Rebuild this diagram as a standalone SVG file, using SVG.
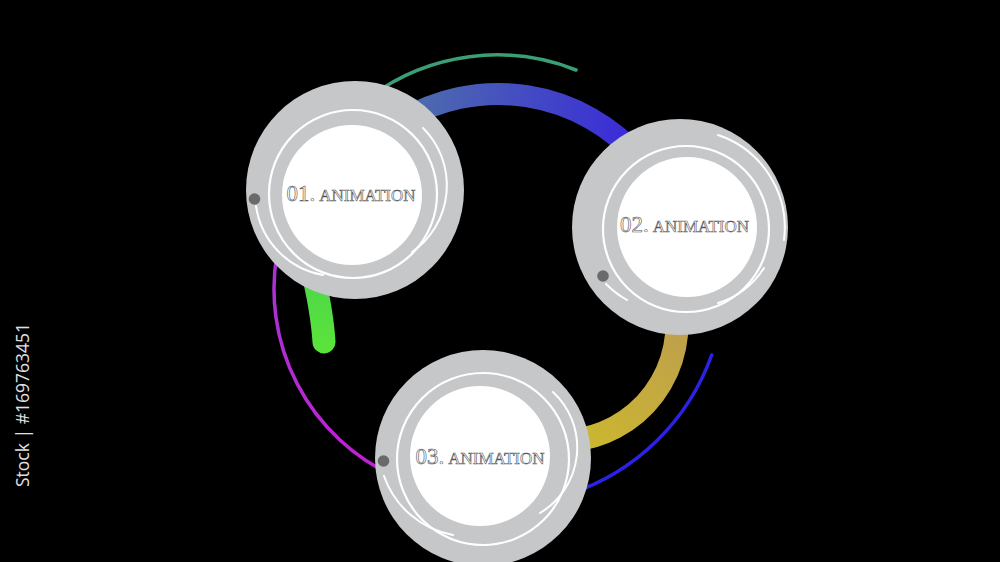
<svg xmlns="http://www.w3.org/2000/svg" width="1000" height="562" viewBox="0 0 1000 562">
  <defs>
    <linearGradient id="gBlue" gradientUnits="userSpaceOnUse" x1="420" y1="100" x2="630" y2="130">
      <stop offset="0" stop-color="#4d6aae"/>
      <stop offset="1" stop-color="#3a2bd8"/>
    </linearGradient>
    <linearGradient id="gGold" gradientUnits="userSpaceOnUse" x1="680" y1="330" x2="590" y2="445">
      <stop offset="0" stop-color="#bfa04c"/>
      <stop offset="1" stop-color="#cbb630"/>
    </linearGradient>
    <linearGradient id="gMag" gradientUnits="userSpaceOnUse" x1="275" y1="260" x2="380" y2="470">
      <stop offset="0" stop-color="#a834d2"/>
      <stop offset="1" stop-color="#c21ed6"/>
    </linearGradient>
    <linearGradient id="gGreen" gradientUnits="userSpaceOnUse" x1="0" y1="280" x2="0" y2="355">
      <stop offset="0" stop-color="#4ed848"/>
      <stop offset="1" stop-color="#5ce43a"/>
    </linearGradient>
  </defs>
  <style>
    .bg { fill: #000000; }
    .arc { fill: none; stroke-linecap: round; }
    .outer { fill: #c6c7c9; }
    .ring { fill: none; stroke: #ffffff; stroke-width: 2.2; }
    .disk { fill: #ffffff; }
    .hl { fill: none; stroke: #ffffff; stroke-width: 2; stroke-linecap: round; }
    .dot { fill: #6a6a6a; }
    .label { font-family: "Liberation Serif", "Times New Roman", serif; fill: #ffffff; stroke: #555555; stroke-width: 0.6; text-anchor: middle; }
    .num { font-size: 23px; }
    .word { font-size: 17px; }
    .credit { font-family: "Open Sans", "Liberation Sans", sans-serif; font-size: 17.5px; fill: #e0e0e0; }
  </style>

  <rect class="bg" x="0" y="0" width="1000" height="562"/>

  <g id="connectors">
    <path class="arc" d="M 370 96.8 A 214 214 0 0 1 576 70" stroke="#3a9f76" stroke-width="3.5"/>
    <path class="arc" d="M 400 121.6 A 188 188 0 0 1 640 158.8" stroke="url(#gBlue)" stroke-width="22" stroke-linecap="butt"/>
    <path class="arc" d="M 311 265 Q 322 310 324 342" stroke="url(#gGreen)" stroke-width="23"/>
    <path class="arc" d="M 277.7 250 A 206 206 0 0 0 395 476.6" stroke="url(#gMag)" stroke-width="3.5"/>
    <path class="arc" d="M 674.5 300 A 117 117 0 0 1 570 440.6" stroke="url(#gGold)" stroke-width="23" stroke-linecap="butt"/>
    <path class="arc" d="M 711.7 355 A 226 226 0 0 1 570 493.6" stroke="#2b22e6" stroke-width="3.5"/>
  </g>

  <g id="node1">
    <circle class="outer" cx="355" cy="190" r="109"/>
    <circle class="ring" cx="353" cy="194" r="84"/>
    <circle class="disk" cx="352" cy="195" r="70"/>
    <path class="hl" d="M 423 128 A 81 81 0 0 1 412 252"/>
    <path class="hl" d="M 256 206 A 82 82 0 0 0 323 275"/>
    <circle class="dot" cx="254.5" cy="199" r="5.8"/>
    <text class="label" x="351" y="201"><tspan class="num">01.</tspan><tspan class="word" dx="4">ANIMATION</tspan></text>
  </g>

  <g id="node2">
    <circle class="outer" cx="680" cy="227" r="108"/>
    <circle class="ring" cx="686" cy="229" r="83"/>
    <circle class="disk" cx="687" cy="227" r="70"/>
    <path class="hl" d="M 718 135 A 98 98 0 0 1 784 240"/>
    <path class="hl" d="M 718 303 A 84 84 0 0 0 764 268"/>
    <path class="hl" d="M 606 284 A 96 96 0 0 0 627 300"/>
    <circle class="dot" cx="603" cy="276" r="5.8"/>
    <text class="label" x="684.5" y="232"><tspan class="num">02.</tspan><tspan class="word" dx="4">ANIMATION</tspan></text>
  </g>

  <g id="node3">
    <circle class="outer" cx="483" cy="458" r="108"/>
    <circle class="ring" cx="483" cy="459" r="86"/>
    <circle class="disk" cx="480" cy="456" r="70"/>
    <path class="hl" d="M 553 392 A 76 76 0 0 1 540 513"/>
    <path class="hl" d="M 384 476 A 90 90 0 0 0 453 535"/>
    <circle class="dot" cx="383.5" cy="461" r="5.8"/>
    <text class="label" x="480" y="463.5"><tspan class="num">03.</tspan><tspan class="word" dx="4">ANIMATION</tspan></text>
  </g>

  <text class="credit" transform="translate(28.5,487) rotate(-90)">Stock | #169763451</text>
</svg>
